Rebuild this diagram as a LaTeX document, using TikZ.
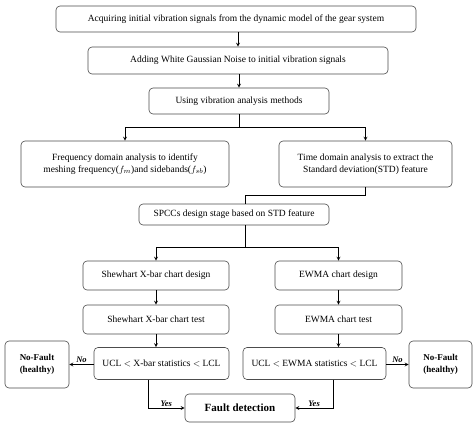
\documentclass[tikz,border=0pt]{standalone}
\usepackage{amsmath}
\usepackage{fontspec}
\setmainfont{Liberation Serif}
\usetikzlibrary{arrows}

\tikzset{
	box/.style={draw=black!70, line width=0.6pt, rounded corners=4pt, fill=white, align=center, inner sep=1pt, font=\fontsize{9.5}{11.5}\selectfont},
	arr/.style={-stealth, thick},
	ln/.style={thick},
	lbl/.style={font=\fontsize{8.5}{9}\selectfont\bfseries\itshape, inner sep=1.5pt}
}

\begin{document}
\begin{tikzpicture}[x=1pt,y=-1pt]
	\useasboundingbox (0,0) rectangle (474,428);
	% top chain
	\node[box, minimum width=360pt, minimum height=26pt] (acq) at (236,19) {Acquiring initial vibration signals from the dynamic model of the gear system};
	\node[box, minimum width=300pt, minimum height=27pt] (noise) at (238,60.5) {Adding White Gaussian Noise to initial vibration signals};
	\node[box, minimum width=180pt, minimum height=26pt] (use) at (239,101) {Using vibration analysis methods};
	\node[box, minimum width=208pt, minimum height=46pt] (freq) at (125,164) {Frequency domain analysis to identify\\meshing frequency($f_m$)and sidebands($f_{sb}$)};
	\node[box, minimum width=173pt, minimum height=46pt] (time) at (365.5,164) {Time domain analysis to extract the\\Standard deviation(STD) feature};
	\node[box, minimum width=190pt, minimum height=21pt] (spcc) at (234,214.5) {SPCCs design stage based on STD feature};
	% two charts
	\node[box, minimum width=146pt, minimum height=29pt] (xdes) at (156,275.5) {Shewhart X-bar chart design};
	\node[box, minimum width=127pt, minimum height=29pt] (edes) at (338.5,275.5) {EWMA chart design};
	\node[box, minimum width=146pt, minimum height=29pt] (xtest) at (156,319.5) {Shewhart X-bar chart test};
	\node[box, minimum width=127pt, minimum height=29pt] (etest) at (338.5,319.5) {EWMA chart test};
	\node[box, minimum width=135pt, minimum height=32pt] (xucl) at (161.5,363.5) {UCL $<$ X-bar statistics $<$ LCL};
	\node[box, minimum width=143pt, minimum height=32pt] (eucl) at (314.5,363.5) {UCL $<$ EWMA statistics $<$ LCL};
	\node[box, minimum width=64pt, minimum height=47pt, font=\fontsize{9}{12.5}\selectfont\bfseries] (nfl) at (37,364.5) {No-Fault\\(healthy)};
	\node[box, minimum width=63pt, minimum height=47pt, font=\fontsize{9}{12.5}\selectfont\bfseries] (nfr) at (440.5,364.5) {No-Fault\\(healthy)};
	\node[box, minimum width=110pt, minimum height=28pt, font=\fontsize{11}{13}\selectfont\bfseries] (fault) at (240,408) {Fault detection};

	\coordinate (split1) at (239,127);
	\coordinate (split2) at (245,195);
	\coordinate (split3) at (245,247);
	\coordinate (yesl) at (148,408);
	\coordinate (yesr) at (333,408);

	\draw[arr] (acq.south -| noise.north) -- (noise.north);
	\draw[arr] (noise.south -| use.north) -- (use.north);
	\draw[ln] (use.south) -- (split1);
	\draw[arr] (split1) -| (freq.north);
	\draw[arr] (split1) -| (time.north);
	\draw[ln] (time.south) |- (split2) -- (split2 |- spcc.north);
	\draw[ln] (split2 |- spcc.south) -- (split3);
	\draw[arr] (split3) -| (xdes.north);
	\draw[arr] (split3) -| (edes.north);
	\draw[arr] (xdes) -- (xtest);
	\draw[arr] (edes) -- (etest);
	\draw[arr] (xtest.south) -- (xtest.south |- xucl.north);
	\draw[arr] (etest.south) -- (etest.south |- eucl.north);
	\draw[arr] (xucl.west |- nfl.east) -- (nfl.east) node[midway, above, lbl] {No};
	\draw[arr] (eucl.east |- nfr.west) -- (nfr.west) node[midway, above, lbl] {No};
	\draw[arr] (xucl.south -| yesl) |- (fault.west) node[pos=0.75, above, lbl] {Yes};
	\draw[arr] (eucl.south -| yesr) |- (fault.east) node[pos=0.75, above, lbl] {Yes};
\end{tikzpicture}
\end{document}
